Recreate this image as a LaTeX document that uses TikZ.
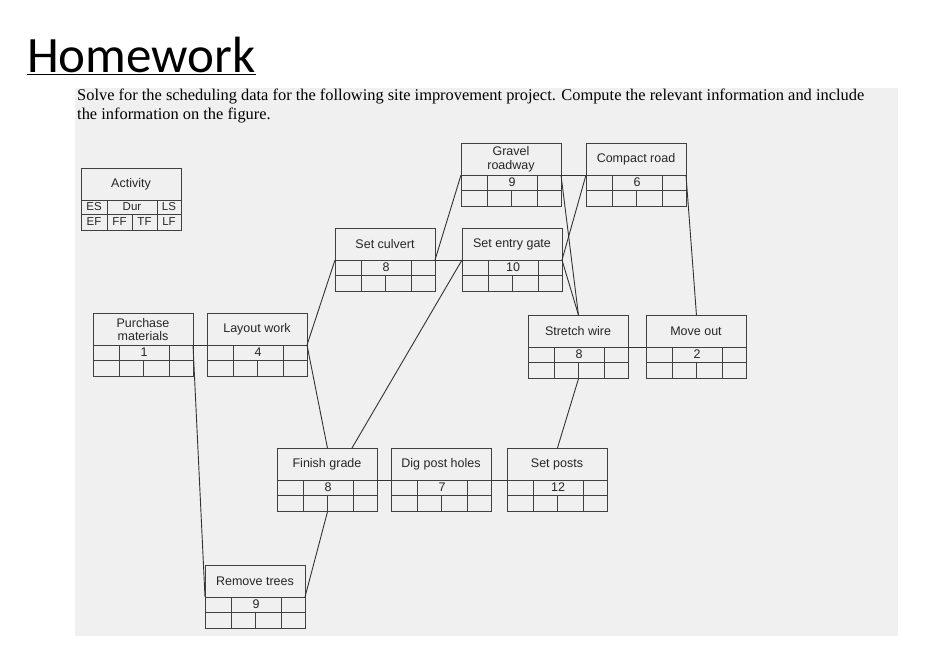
\documentclass[tikz,border=0pt]{standalone}
\usepackage{fontspec}
\setmainfont{Liberation Serif}
\newfontfamily\boxfont{Liberation Sans}
\newfontfamily\headfont{Carlito}
\tikzset{
  grid/.style={draw=black!75, line width=0.9pt},
  conn/.style={draw=black!80, line width=0.9pt},
  lbl/.style={font=\boxfont\fontsize{12.5}{13.5}\selectfont, inner sep=0pt, align=center, text=black!85},
}
\newcommand\actbox[5]{%
  \begin{scope}[shift={(#2,#3)}]
    \node[grid, rectangle, minimum width=100pt, minimum height=63pt, anchor=north west, inner sep=0pt] (#1) at (0,0) {};
    \draw[grid] (0,32) -- (100,32) (0,47.5) -- (100,47.5)
      (26,32) -- (26,63) (76,32) -- (76,63) (50,47.5) -- (50,63);
    \node[lbl] (#1-t) at (50,16.5) {#4};
    \node[lbl] (#1-d) at (51,39.5) {#5};
    \coordinate (#1-l) at (0,32);
    \coordinate (#1-r) at (100,32);
  \end{scope}}
\begin{document}
\begin{tikzpicture}[x=1pt,y=-1pt]
\useasboundingbox (0,0) rectangle (931,646);
\fill[white] (0,0) rectangle (931,646);
\fill[black!6] (75,88) rectangle (898,636);
\node[anchor=base west, inner sep=0pt, font=\headfont\fontsize{51}{54}\selectfont] (hw) at (27,72) {\underline{Homework}};
\node[anchor=north west, inner sep=0pt, align=left, font=\fontsize{16.4}{19}\selectfont] (para) at (77,89)
 {Solve for the scheduling data for the following site improvement project. Compute the relevant information and include\\the information on the figure.};
% legend
\node[grid, rectangle, minimum width=100pt, minimum height=62pt, anchor=north west, inner sep=0pt] (leg) at (81,168) {};
\draw[grid] (81,200) -- (181,200) (81,214) -- (181,214)
  (107,200) -- (107,230) (157,200) -- (157,230) (132,214) -- (132,230);
\node[lbl] (legt) at (131,184) {Activity};
\begin{scope}[every node/.style={lbl, font=\boxfont\fontsize{11.5}{11}\selectfont}]
\node (les) at (94,207) {ES}; \node (ldur) at (132,207) {Dur}; \node (lls) at (169,207) {LS};
\node (lef) at (94,222) {EF}; \node (lff) at (119.5,222) {FF}; \node (ltf) at (144.5,222) {TF}; \node (llf) at (169,222) {LF};
\end{scope}
\actbox{pm}{93}{313}{Purchase\\materials}{1}
\actbox{lw}{207}{313}{Layout work}{4}
\actbox{sc}{335}{228}{Set culvert}{8}
\actbox{gr}{461}{143}{Gravel\\roadway}{9}
\actbox{seg}{462}{228}{Set entry gate}{10}
\actbox{cr}{586}{143}{Compact road}{6}
\actbox{sw}{528}{315}{Stretch wire}{8}
\actbox{mo}{646}{315}{Move out}{2}
\actbox{fg}{277}{448}{Finish grade}{8}
\actbox{dp}{391}{448}{Dig post holes}{7}
\actbox{sp}{507}{448}{Set posts}{12}
\actbox{rt}{205}{565}{Remove trees}{9}
% connectors
\draw[conn] (pm-r) -- (lw-l);
\draw[conn] (pm-r) -- (rt-l);
\draw[conn] (lw-r) -- (sc-l);
\draw[conn] (lw-r) -- (fg.north);
\draw[conn] (sc-r) -- (seg-l);
\draw[conn] (sc-r) -- (gr-l);
\draw[conn] (rt-r) -- (fg.south);
\coordinate (fgn) at (352,448);
\draw[conn] (fgn) -- (seg-l);
\draw[conn] (fg-r) -- (dp-l);
\draw[conn] (dp-r) -- (sp-l);
\draw[conn] (sp.north) -- (sw.south);
\draw[conn] (gr-r) -- (cr-l);
\draw[conn] (gr-r) -- (sw.north);
\draw[conn] (seg-r) -- (cr-l);
\draw[conn] (seg-r) -- (sw.north);
\draw[conn] (sw-r) -- (mo-l);
\draw[conn] (cr-r) -- (mo.north);
\end{tikzpicture}
\end{document}
